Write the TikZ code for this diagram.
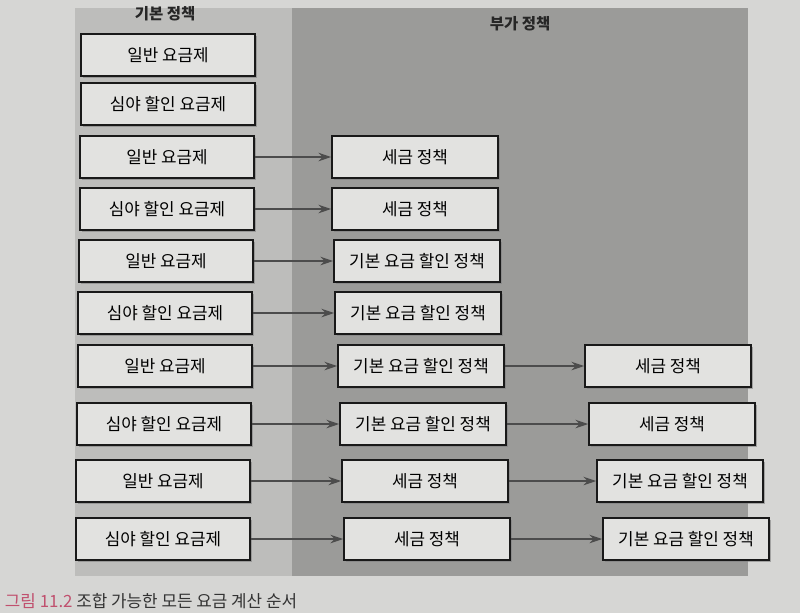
\documentclass[tikz,border=0pt]{standalone}
\usepackage{fontspec}
\setmainfont{Noto Sans CJK KR}
\usepackage{xcolor}
\usetikzlibrary{positioning, arrows.meta, shadows}

\definecolor{pagebg}{HTML}{D6D6D4}
\definecolor{basepanel}{HTML}{BDBDBB}
\definecolor{addpanel}{HTML}{9B9B99}
\definecolor{boxfill}{HTML}{E2E2E0}
\definecolor{figred}{HTML}{C0506E}

\begin{document}
\begin{tikzpicture}[
    x=0.025cm, y=-0.025cm,
    policy/.style={draw=black!90, line width=1.1pt, fill=boxfill, minimum height=1.05cm, align=center,
        font=\fontsize{12}{14}\selectfont,
        drop shadow={shadow xshift=1.3pt, shadow yshift=-1.3pt, opacity=0.6}},
    base/.style={policy, minimum width=4.35cm},
    extra/.style={policy, minimum width=4.15cm},
    arrow/.style={-{Stealth[length=9pt, width=6pt]}, line width=0.9pt, black!70},
    header/.style={font=\fontsize{11}{13}\selectfont\bfseries, text=black!85}
]
% Page and panels
\fill[pagebg] (0,0) rectangle (800,613);
\useasboundingbox (0,0) rectangle (800,613);
\fill[basepanel] (75,8) rectangle (292,576);
\fill[addpanel] (292,8) rectangle (748,576);

% Headers
\node[header] (basehead) at (165,14) {기본 정책};
\node[header] (addhead) at (520,24) {부가 정책};

% Base policies
\node[base] (b1) at (168,55) {일반 요금제};
\node[base] (b2) at (168,104) {심야 할인 요금제};
\node[base] (b3) at (167,157) {일반 요금제};
\node[base] (b4) at (167,209) {심야 할인 요금제};
\node[base] (b5) at (166,261) {일반 요금제};
\node[base] (b6) at (165,313) {심야 할인 요금제};
\node[base] (b7) at (165,366) {일반 요금제};
\node[base] (b8) at (164,424) {심야 할인 요금제};
\node[base] (b9) at (163,481) {일반 요금제};
\node[base] (b10) at (163,539) {심야 할인 요금제};

% First additional policies
\node[extra] (m3) at (415,157) {세금 정책};
\node[extra] (m4) at (415,209) {세금 정책};
\node[extra] (m5) at (417,261) {기본 요금 할인 정책};
\node[extra] (m6) at (418,313) {기본 요금 할인 정책};
\node[extra] (m7) at (421,366) {기본 요금 할인 정책};
\node[extra] (m8) at (423,424) {기본 요금 할인 정책};
\node[extra] (m9) at (425,481) {세금 정책};
\node[extra] (m10) at (427,539) {세금 정책};

% Second additional policies
\node[extra] (r7) at (668,366) {세금 정책};
\node[extra] (r8) at (672,424) {세금 정책};
\node[extra] (r9) at (680,481) {기본 요금 할인 정책};
\node[extra] (r10) at (686,539) {기본 요금 할인 정책};

% Arrows
\draw[arrow] (b3) -- (m3);
\draw[arrow] (b4) -- (m4);
\draw[arrow] (b5) -- (m5);
\draw[arrow] (b6) -- (m6);
\draw[arrow] (b7) -- (m7);
\draw[arrow] (b8) -- (m8);
\draw[arrow] (b9) -- (m9);
\draw[arrow] (b10) -- (m10);
\draw[arrow] (m7) -- (r7);
\draw[arrow] (m8) -- (r8);
\draw[arrow] (m9) -- (r9);
\draw[arrow] (m10) -- (r10);

% Caption
\node[anchor=west, font=\fontsize{12}{14}\selectfont, text=black!80] (caption) at (0,601)
    {\textcolor{figred}{그림 11.2} 조합 가능한 모든 요금 계산 순서};

\end{tikzpicture}
\end{document}
